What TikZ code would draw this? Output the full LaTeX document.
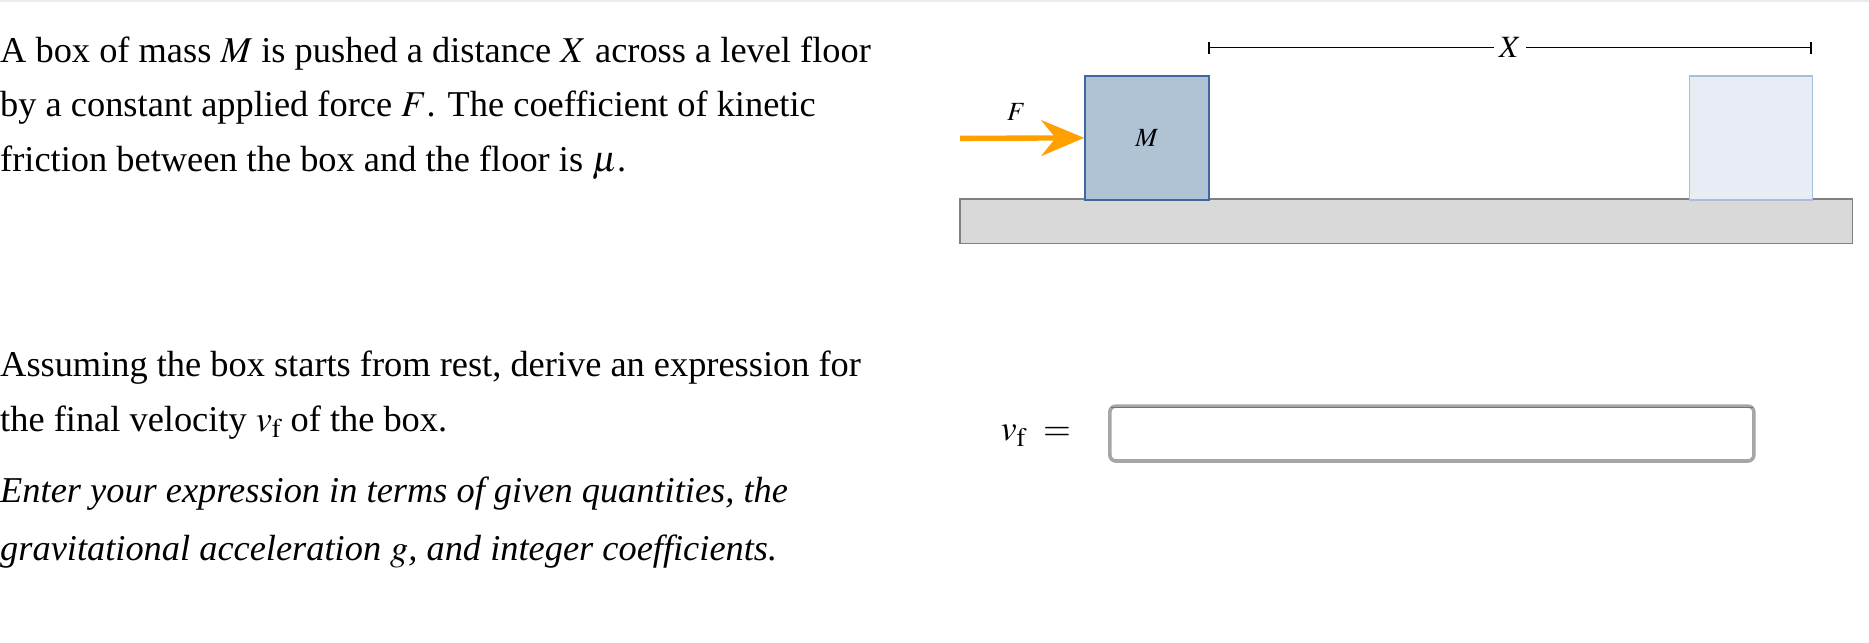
\documentclass[tikz,border=0pt]{standalone}
\usepackage{mathptmx}
\usepackage{fontspec}
\setmainfont{Liberation Serif}
\usetikzlibrary{arrows.meta}
\definecolor{floorfill}{HTML}{D9D9D9}
\definecolor{floorline}{HTML}{808080}
\definecolor{boxfill}{HTML}{AFC3D5}
\definecolor{boxline}{HTML}{3D6A9E}
\definecolor{ghostfill}{HTML}{E8EDF5}
\definecolor{ghostline}{HTML}{A8BEDA}
\definecolor{forcecol}{HTML}{FFA000}
\begin{document}
\begin{tikzpicture}[x=1pt,y=-1pt,
  body/.style={anchor=base west,inner sep=0pt,font=\fontsize{30.5}{35}\selectfont},
  lab/.style={inner sep=0pt,font=\fontsize{22}{26}\selectfont}]
\useasboundingbox (0,0) rectangle (1567,539);
\draw[black!8,line width=2pt] (0,1) -- (1567,1);
% text
\node[body] (t1) at (0,52) {A box of mass $M$ is pushed a distance $X$ across a level floor};
\node[body] (t2) at (0,98) {by a constant applied force $F$. The coefficient of kinetic};
\node[body] (t3) at (0,144) {friction between the box and the floor is $\mu$.};
\node[body] (t4) at (0,316) {Assuming the box starts from rest, derive an expression for};
\node[body] (t5) at (0,362) {the final velocity $v_{\mathrm{f}}$ of the box.};
\node[body] (t6) at (0,421) {\itshape Enter your expression in terms of given quantities, the};
\node[body] (t7) at (0,470) {\itshape gravitational acceleration $g$, and integer coefficients.};
% diagram
\draw[fill=floorfill,draw=floorline,line width=1.2pt] (805,167) rectangle (1553,204);
\node[draw=boxline,fill=boxfill,line width=1.2pt,minimum width=104pt,minimum height=104pt,inner sep=0pt,anchor=north west] (box) at (909,63) {};
\node[lab] (M) at (box.center) {$M$};
\node[draw=ghostline,fill=ghostfill,line width=1.2pt,minimum width=103pt,minimum height=104pt,inner sep=0pt,anchor=north west] (ghost) at (1416,63) {};
\coordinate (fs) at (805,116);
\draw[forcecol,line width=4.5pt,-{Stealth[length=36pt,width=30pt,inset=12pt]}] (fs) -- (box.west);
\node[lab] (F) at (852,94) {$F$};
\coordinate (xa) at (1013,40);
\coordinate (xb) at (1519,40);
\node[lab,fill=white,inner xsep=4pt,font=\fontsize{26}{30}\selectfont] (X) at (1266,40) {$X$};
\draw[line width=1.3pt,{Bar[width=10pt]}-] (xa) -- (X.west);
\draw[line width=1.3pt,-{Bar[width=10pt]}] (X.east) -- (xb);
% answer field
\node[lab,font=\fontsize{30}{34}\selectfont,anchor=east] (vf) at (898,365) {$v_{\mathrm{f}}\ =$};
\node[draw=black!35,line width=3pt,rounded corners=5pt,minimum width=540pt,minimum height=46pt,anchor=north west,inner sep=0pt] (field) at (929,339) {};
\draw[black!55,line width=1pt] ([shift={(2.5pt,-2.5pt)}]field.north west) -- ([shift={(-2.5pt,-2.5pt)}]field.north east);
\end{tikzpicture}
\end{document}
